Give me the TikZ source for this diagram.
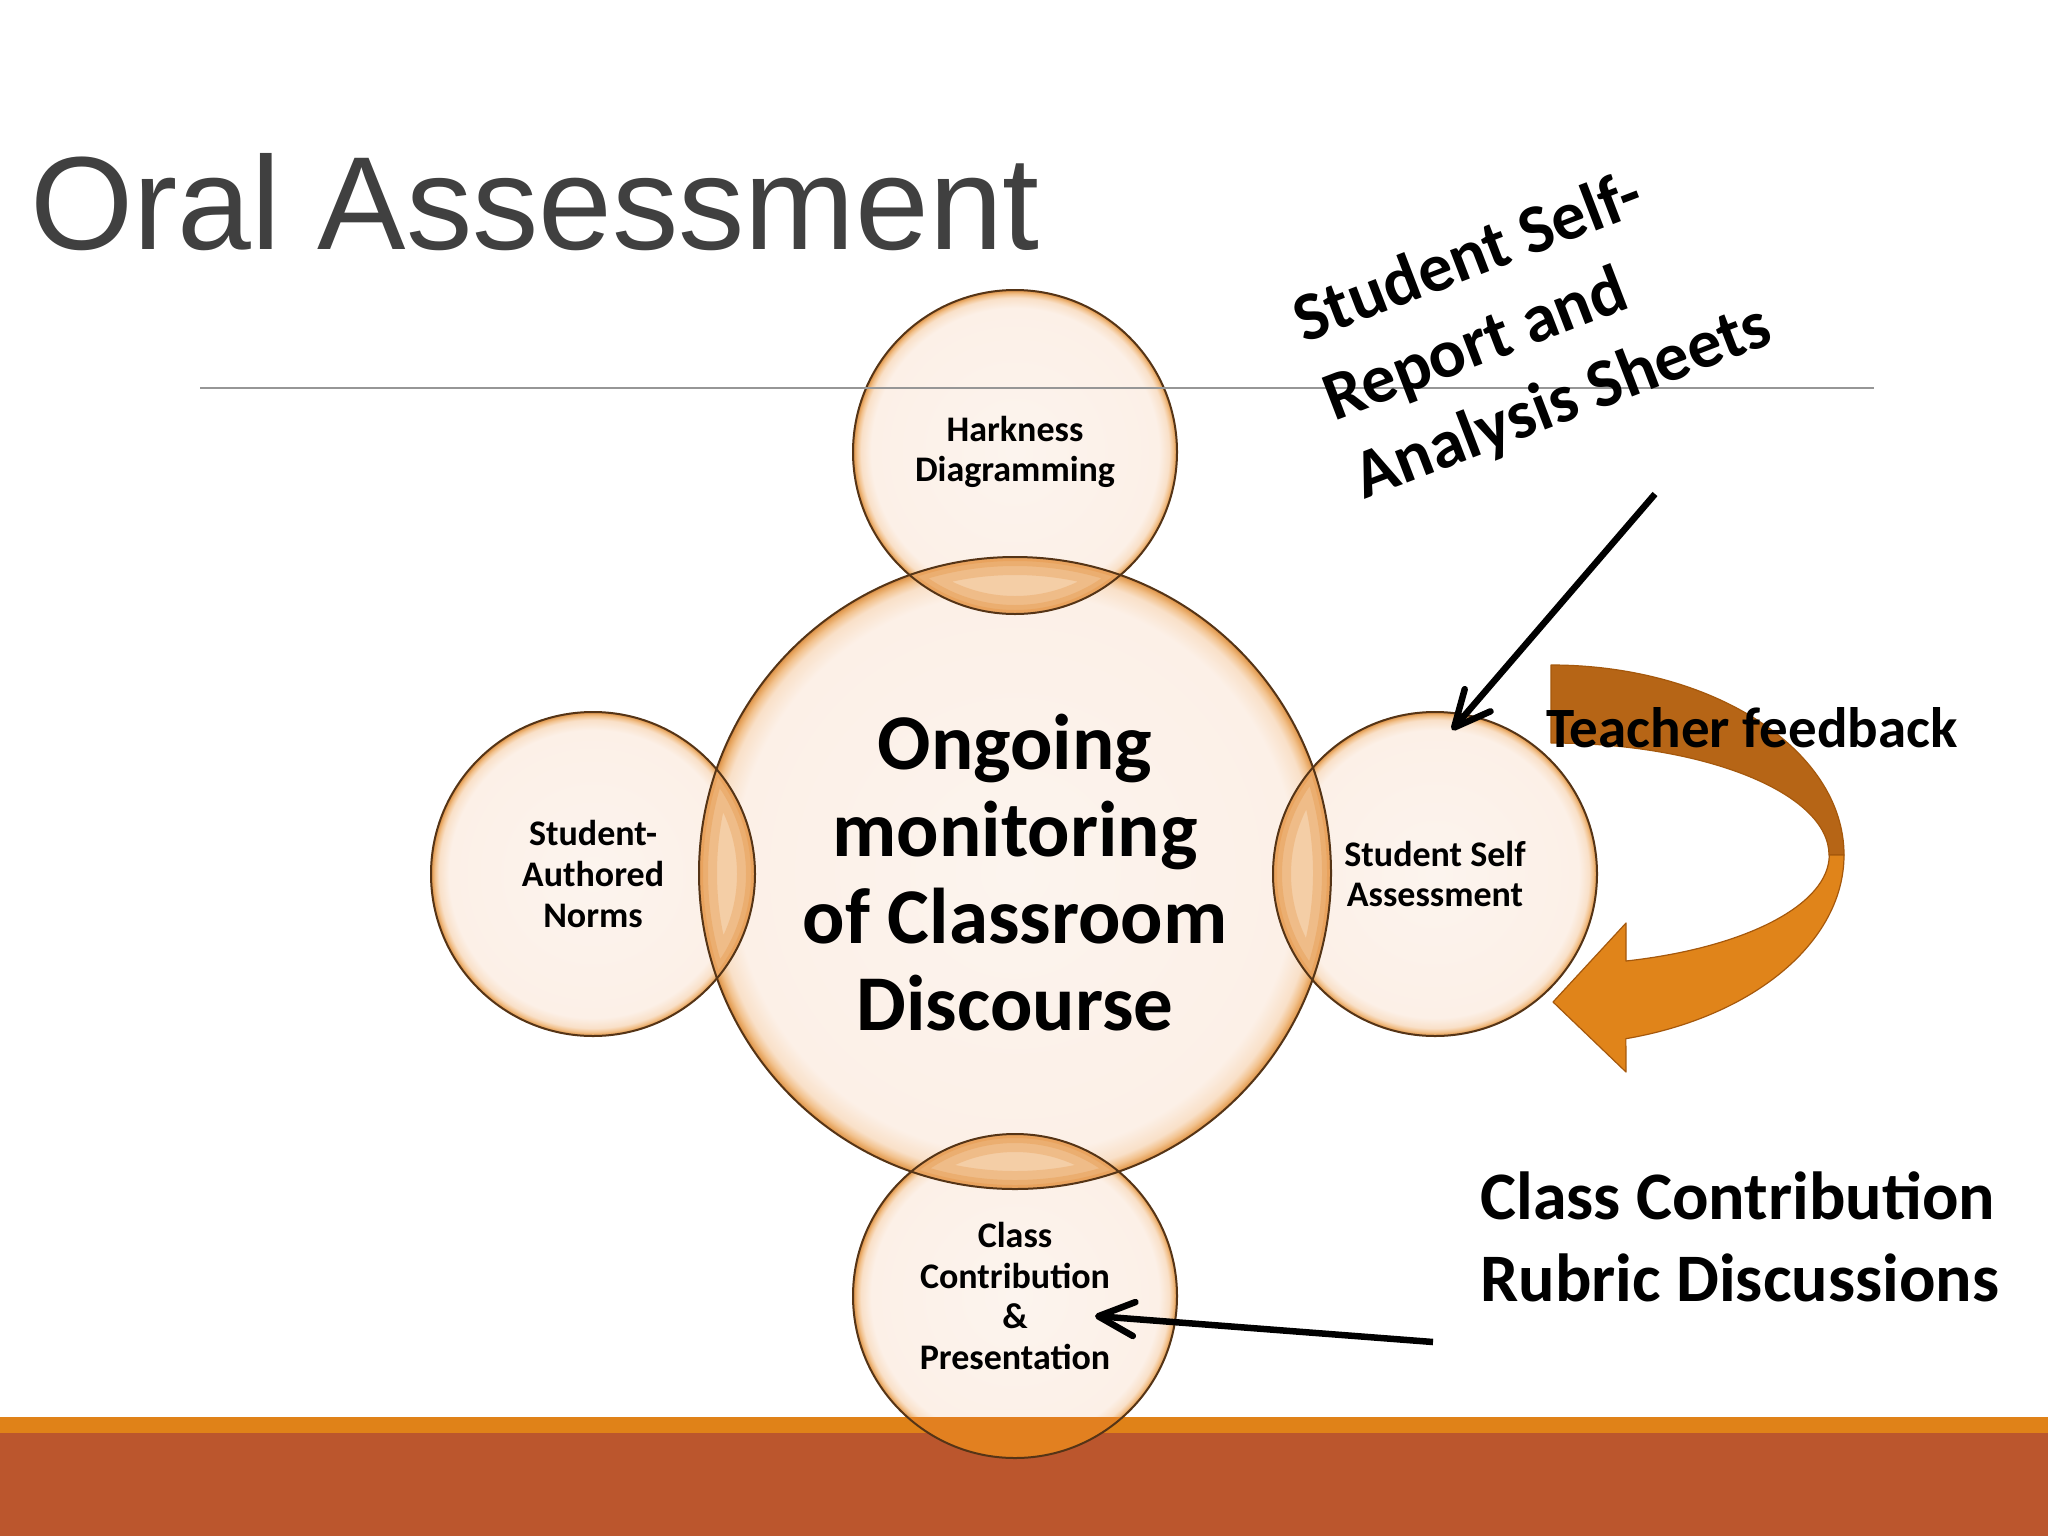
\documentclass[tikz,border=0pt]{standalone}
\usepackage{fontspec}
\setmainfont{Carlito}
\newfontfamily\titlefont{Liberation Sans}
\usetikzlibrary{arrows.meta}
\definecolor{titlegray}{RGB}{64,64,64}
\definecolor{rulegray}{RGB}{150,150,150}
\definecolor{stripe}{RGB}{224,130,24}
\definecolor{rust}{RGB}{187,86,45}
\definecolor{barin}{RGB}{226,128,32}
\definecolor{rimbrown}{RGB}{85,52,22}
\definecolor{lenstint}{RGB}{244,206,166}
\definecolor{lensrim}{RGB}{230,148,68}
\definecolor{fbDark}{RGB}{182,101,22}
\definecolor{fbLight}{RGB}{224,132,26}
\definecolor{fbEdge}{RGB}{165,88,12}
\definecolor{bA}{RGB}{252,244,238}
\definecolor{bB}{RGB}{252,240,231}
\definecolor{bC}{RGB}{249,224,200}
\definecolor{bD}{RGB}{242,194,142}
\definecolor{bE}{RGB}{230,163,92}
\definecolor{bF}{RGB}{212,138,68}
\pgfdeclareradialshading{bubble}{\pgfpoint{0bp}{0bp}}{color(0bp)=(bA); color(22.2bp)=(bB); color(23.8bp)=(bC); color(24.4bp)=(bD); color(24.8bp)=(bE); color(25bp)=(bF); color(50bp)=(bF)}
\tikzset{
  bub/.style={circle, inner sep=0pt, shade, shading=bubble, align=center, text=black},
  bubS/.style={bub, minimum size=162pt, font=\bfseries\fontsize{18}{20.3}\selectfont},
  bubL/.style={bub, minimum size=316pt, font=\bfseries\fontsize{39.5}{43.5}\selectfont},
  rim/.style={draw=rimbrown, line width=1pt},
  ptr/.style={line width=3.25pt, -{Straight Barb[length=18pt,width=17pt,round]}},
  rotlbl/.style={anchor=base west, rotate=21, inner sep=0pt, align=left, font=\bfseries\fontsize{34.5}{42}\selectfont},
  lbl/.style={anchor=base west, inner sep=0pt, font=\bfseries\fontsize{34}{41}\selectfont},
  fblbl/.style={anchor=base west, inner sep=0pt, font=\bfseries\fontsize{28.5}{34}\selectfont},
  fbedge/.style={draw=fbEdge, line width=0.6pt, line join=round}
}
\begin{document}
\begin{tikzpicture}[x=0.5pt,y=-0.5pt]
\useasboundingbox (0,0) rectangle (2048,1536);
\fill[white] (0,0) rectangle (2048,1536);
% bottom bars
\fill[stripe] (0,1417) rectangle (2048,1433);
\fill[rust] (0,1433) rectangle (2048,1536);
% title
\node[anchor=base west, inner sep=0pt, font=\titlefont\fontsize{66.3}{70}\selectfont, text=titlegray] (title) at (30,249) {Oral Assessment};
% bubbles
\node[bubL] (c0) at (1015,873) {Ongoing\\monitoring\\of Classroom\\Discourse};
\node[bubS] (cT) at (1015,452) {Harkness\\Diagramming};
\node[bubS] (cL) at (593,874) {Student-\\Authored\\Norms};
\node[bubS] (cR) at (1435,874) {Student Self\\Assessment};
\node[bubS] (cB) at (1015,1296) {Class\\Contribution\\\&\\Presentation};
% overlap lenses
\foreach \n in {cT,cL,cR,cB}{
  \begin{scope}
  \clip (c0.center) circle[radius=316];
  \clip (\n.center) circle[radius=162];
  \fill[lenstint] (\n.center) circle[radius=162];
  \draw[lensrim, line width=18pt, draw opacity=0.3] (\n.center) circle[radius=162] (c0.center) circle[radius=316];
  \draw[lensrim, line width=9pt, draw opacity=0.35] (\n.center) circle[radius=162] (c0.center) circle[radius=316];
  \draw[lensrim, line width=4pt, draw opacity=0.4] (\n.center) circle[radius=162] (c0.center) circle[radius=316];
  \end{scope}
}
% bar seen through the bottom bubble
\begin{scope}
\clip (cB.center) circle[radius=162];
\fill[barin] (0,1417) rectangle (2048,1536);
\end{scope}
% outlines
\draw[rim] (c0.center) circle[radius=316];
\foreach \n in {cT,cL,cR,cB}{\draw[rim] (\n.center) circle[radius=162];}
% rule
\draw[rulegray, line width=0.75pt] (200,388) -- (1874,388);
% curved feedback arrow
\path[fill=fbDark, fbedge] (1551,665) arc[start angle=-90, end angle=0, x radius=293, y radius=190]
  -- (1829,855) arc[start angle=0, end angle=-90, x radius=278, y radius=112] -- cycle;
\path[fill=fbLight, fbedge] (1844,855) arc[start angle=0, end angle=75.2, x radius=293, y radius=190]
  -- (1626,1072) -- (1553,1002) -- (1626,923) -- (1626,961)
  arc[start angle=74.4, end angle=0, x radius=278, y radius=110] -- cycle;
\node[fblbl] (fb) at (1546,747) {Teacher feedback};
% rotated label (base = last line)
\node[rotlbl] (srep) at (1364,500) {Student Self-\\Report and\\Analysis Sheets};
% class contribution label
\node[lbl] (cc1) at (1480,1219) {Class Contribution};
\node[lbl] (cc2) at (1480,1301) {Rubric Discussions};
% pointer arrows
\coordinate (a1s) at (1655,494);
\coordinate (a1e) at (1452,730);
\coordinate (a2s) at (1433,1342);
\coordinate (a2e) at (1095,1316);
\draw[ptr] (a1s) -- (a1e);
\draw[ptr] (a2s) -- (a2e);
\end{tikzpicture}
\end{document}
